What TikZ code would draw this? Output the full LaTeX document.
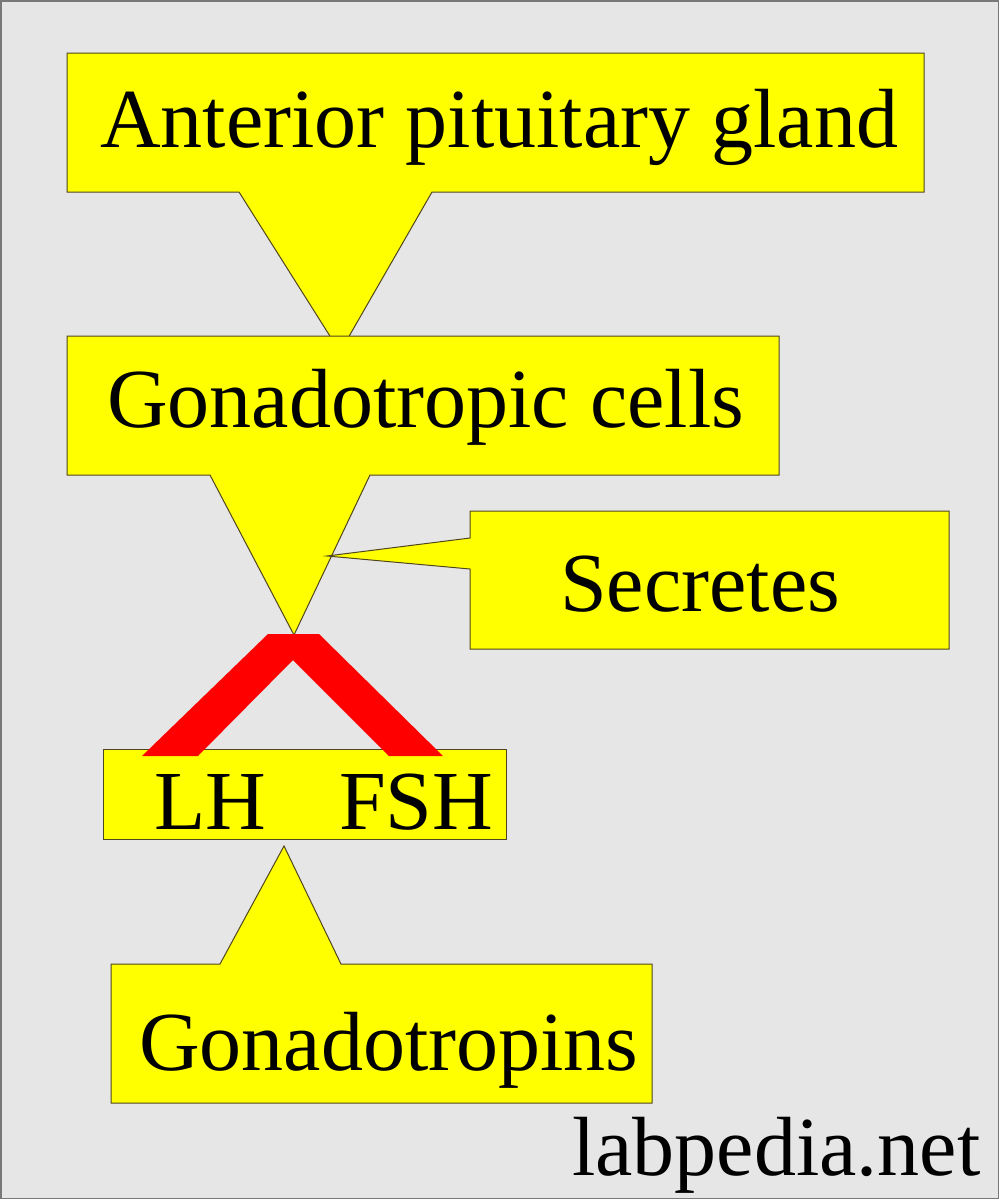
\documentclass[tikz,border=0pt]{standalone}
\usepackage{fontspec}
\setmainfont{Liberation Serif}
\definecolor{bgrey}{RGB}{230,230,230}
\definecolor{byellow}{RGB}{255,255,0}
\definecolor{bred}{RGB}{255,0,0}
\definecolor{bline}{RGB}{80,70,30}
\begin{document}
\begin{tikzpicture}[x=1pt,y=-1pt,
  callout/.style={fill=byellow, draw=bline, line width=1pt, line join=miter},
  lbl/.style={anchor=base west, inner sep=0pt, font=\fontsize{84}{96}\selectfont, text=black}]
\useasboundingbox (0,0) rectangle (1000,1200);
\draw[fill=bgrey, draw={rgb,255:red,120;green,120;blue,120}, line width=1.2pt] (1,1) rectangle (998.5,1198.5);
% callout 1
\draw[callout] (67,53) -- (924,53) -- (924,192) -- (432,192) -- (340,352) -- (239,192) -- (67,192) -- cycle;
% callout 2
\draw[callout] (67,336) -- (779,336) -- (779,475) -- (370,475) -- (294,635) -- (210,475) -- (67,475) -- cycle;
% secretes callout
\draw[callout] (470,511) -- (949,511) -- (949,649) -- (470,649) -- (470,569) -- (327,556) -- (470,538) -- cycle;
% LH FSH box
\draw[callout] (103,749) rectangle (506,839);
% red chevron
\fill[bred] (268,634) -- (319,634) -- (443,756) -- (389,756) -- (293,660) -- (198,756) -- (142,756) -- cycle;
% gonadotropins callout
\draw[callout] (111,964) -- (220,964) -- (284,846) -- (341,964) -- (652,964) -- (652,1103) -- (111,1103) -- cycle;
% texts
\node[lbl] (apg) at (100,147) {Anterior pituitary gland};
\node[lbl] (gc) at (107,427) {Gonadotropic cells};
\node[lbl] (sec) at (560,611) {Secretes};
\node[lbl] (lh) at (154,829) {LH};
\node[lbl] (fsh) at (339,829) {FSH};
\node[lbl] (gtp) at (139,1070) {Gonadotropins};
\node[lbl] (lab) at (572,1175) {labpedia.net};
\end{tikzpicture}
\end{document}
